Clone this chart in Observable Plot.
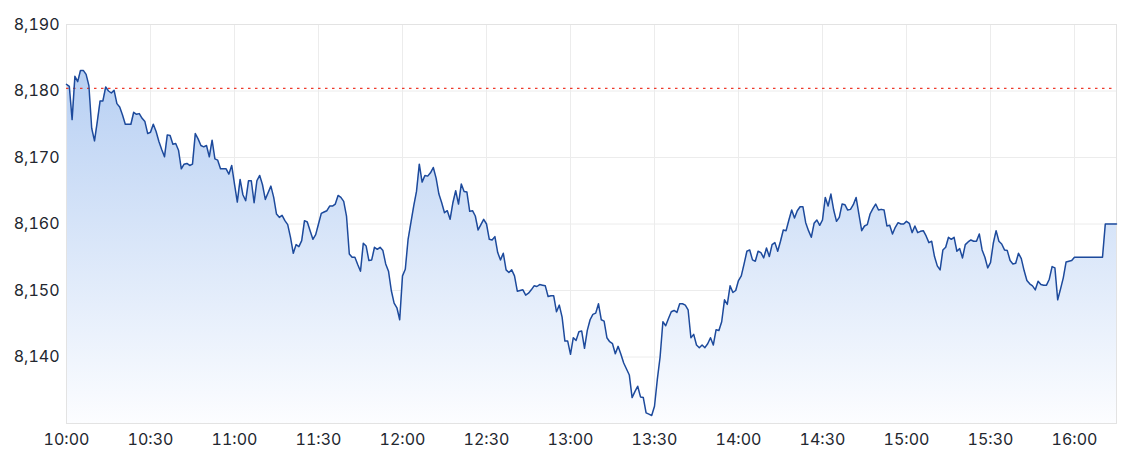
<!DOCTYPE html>
<html>
<head>
<meta charset="utf-8">
<script src="https://cdn.jsdelivr.net/npm/d3@7"></script>
<script src="https://cdn.jsdelivr.net/npm/@observablehq/plot@0.6"></script>
<style>
  html, body { margin: 0; padding: 0; background: #ffffff; }
  #chart { width: 1132px; height: 462px; }
  svg { display: block; }
</style>
</head>
<body>
<div id="chart"></div>
<script>
// Session start and per-minute prices from 10:00 (minute 0) to 16:00 (minute 360)
const sessionStart = [10, 0];
const prices = [
  8181.0, 8180.7, 8175.7, 8182.2, 8181.4, 8183.1, 8183.1, 8182.5, 8180.8, 8174.4,
  8172.5, 8175.4, 8178.5, 8178.5, 8180.6, 8180.0, 8179.7, 8180.1, 8178.1, 8177.6,
  8176.4, 8175.0, 8175.0, 8175.0, 8176.8, 8176.5, 8176.6, 8175.9, 8175.4, 8173.6,
  8173.8, 8175.0, 8173.9, 8172.4, 8171.2, 8170.1, 8173.4, 8173.3, 8172.0, 8172.1,
  8171.1, 8168.3, 8169.0, 8169.1, 8168.8, 8169.0, 8173.6, 8172.8, 8171.8, 8171.6,
  8171.8, 8170.1, 8172.6, 8169.8, 8169.6, 8168.3, 8168.3, 8168.3, 8167.5, 8168.8,
  8166.0, 8163.3, 8166.7, 8164.4, 8163.5, 8166.5, 8166.5, 8163.2, 8166.5, 8167.3,
  8165.9, 8163.7, 8164.7, 8165.7, 8164.0, 8161.5, 8161.0, 8161.3, 8160.5, 8159.9,
  8158.0, 8155.6, 8156.9, 8156.6, 8157.5, 8160.5, 8160.3, 8159.0, 8157.7, 8158.4,
  8160.0, 8161.6, 8161.8, 8162.0, 8162.7, 8162.7, 8163.0, 8164.3, 8164.0, 8163.4,
  8161.2, 8155.5, 8155.0, 8155.0, 8153.9, 8152.9, 8157.1, 8156.7, 8154.5, 8154.6,
  8156.5, 8156.2, 8156.5, 8156.0, 8154.0, 8152.9, 8150.0, 8148.1, 8147.4, 8145.6,
  8152.2, 8153.2, 8157.7, 8160.2, 8162.7, 8164.9, 8169.0, 8166.3, 8167.3, 8167.2,
  8167.7, 8168.5, 8166.9, 8164.5, 8163.2, 8161.7, 8162.0, 8160.7, 8163.2, 8165.0,
  8163.0, 8166.0, 8164.9, 8164.8, 8161.9, 8162.0, 8161.2, 8159.1, 8159.9, 8160.7,
  8160.0, 8157.7, 8157.6, 8158.1, 8155.7, 8154.6, 8155.6, 8153.1, 8152.7, 8153.1,
  8152.2, 8149.9, 8150.0, 8150.1, 8149.3, 8149.6, 8150.1, 8150.7, 8150.6, 8150.9,
  8150.8, 8150.7, 8149.1, 8149.2, 8149.2, 8146.8, 8147.8, 8146.0, 8142.4, 8142.4,
  8140.4, 8142.9, 8142.5, 8143.8, 8143.9, 8141.3, 8144.0, 8145.6, 8146.4, 8146.6,
  8148.0, 8145.6, 8145.4, 8142.9, 8142.3, 8142.0, 8140.5, 8141.6, 8140.4, 8139.1,
  8138.2, 8137.3, 8133.9, 8134.8, 8135.6, 8134.0, 8133.9, 8131.6, 8131.4, 8131.2,
  8132.6, 8136.6, 8140.0, 8145.3, 8144.7, 8145.8, 8146.8, 8147.0, 8146.7, 8148.0,
  8148.0, 8147.8, 8147.1, 8142.9, 8143.4, 8141.8, 8141.4, 8141.8, 8141.4, 8142.0,
  8142.9, 8141.8, 8144.1, 8144.0, 8145.3, 8148.6, 8147.9, 8150.7, 8149.7, 8150.0,
  8151.5, 8152.2, 8154.0, 8155.9, 8156.1, 8154.6, 8154.4, 8155.9, 8155.7, 8154.9,
  8156.4, 8155.1, 8156.9, 8157.2, 8155.9, 8157.4, 8159.1, 8159.0, 8160.6, 8162.1,
  8160.9, 8162.0, 8162.6, 8162.6, 8160.2, 8159.0, 8158.0, 8160.1, 8160.6, 8159.8,
  8160.6, 8164.0, 8162.7, 8164.5, 8162.1, 8160.4, 8161.0, 8163.0, 8162.9, 8162.1,
  8162.2, 8162.9, 8164.0, 8161.5, 8159.0, 8159.7, 8159.9, 8161.5, 8162.3, 8163.0,
  8162.1, 8162.2, 8162.1, 8159.7, 8159.8, 8158.5, 8159.5, 8160.2, 8160.0, 8160.0,
  8160.4, 8160.1, 8158.7, 8159.7, 8158.7, 8158.9, 8159.0, 8158.2, 8157.2, 8157.4,
  8155.1, 8153.7, 8153.1, 8156.1, 8156.5, 8158.0, 8157.7, 8158.0, 8155.9, 8156.3,
  8154.9, 8156.9, 8157.3, 8157.6, 8157.4, 8157.4, 8158.5, 8156.1, 8155.0, 8153.4,
  8154.2, 8157.1, 8159.0, 8157.4, 8157.0, 8156.1, 8156.0, 8154.5, 8154.0, 8154.1,
  8155.6, 8154.8, 8153.0, 8151.5, 8151.0, 8150.7, 8150.1, 8151.4, 8150.9, 8150.8,
  8150.8, 8151.7, 8153.6, 8153.4, 8148.6, 8150.2, 8151.9, 8154.3, 8154.4, 8154.5,
  8155.0
];
// Sparse trailing quotes after 16:00 (minute offsets and prices)
const tailMinutes = [370, 371, 375];
const tailPrices = [8155.0, 8160.0, 8160.0];
const previousClose = 8180.4;
const yTicks = [8140, 8150, 8160, 8170, 8180, 8190];
const yDomain = [8130, 8190];
const sessionEndMinute = 375;

const toTime = m => new Date(2024, 0, 2, sessionStart[0], sessionStart[1] + m);
const data = prices.map((v, i) => ({t: toTime(i), v}))
  .concat(tailMinutes.map((m, i) => ({t: toTime(m), v: tailPrices[i]})));

const font = "Inter, Roboto, 'Noto Sans', sans-serif";
const chart = Plot.plot({
  width: 1132,
  height: 462,
  marginLeft: 66,
  marginRight: 16,
  marginTop: 24,
  marginBottom: 39,
  style: {fontFamily: font, fontSize: "16px", color: "#23272f", background: "#ffffff"},
  x: {type: "time", domain: [toTime(0), toTime(sessionEndMinute)], label: null},
  y: {domain: yDomain, label: null},
  marks: [
    Plot.gridX({ticks: d3.timeMinute.every(30), stroke: "#ececec", strokeOpacity: 1}),
    Plot.gridY({ticks: yTicks, stroke: "#ececec", strokeOpacity: 1}),
    Plot.areaY(data, {x: "t", y1: () => yDomain[0], y2: "v", fill: "url(#areaGrad)", curve: "linear"}),
    Plot.frame({stroke: "#e3e3e3"}),
    Plot.ruleY([previousClose], {stroke: "#ef3b2c", strokeWidth: 1.2, strokeDasharray: "2.5,4.5"}),
    Plot.lineY(data, {x: "t", y: "v", stroke: "#1d4a9c", strokeWidth: 1.5, curve: "linear"}),
    Plot.axisY({ticks: yTicks, tickSize: 0, tickPadding: 7, tickFormat: d3.format(","), fontSize: 16, label: null}),
    Plot.axisX({ticks: d3.timeMinute.every(30), tickSize: 0, tickPadding: 10, tickFormat: d3.timeFormat("%H:%M"), fontSize: 16, label: null})
  ]
});

const ns = "http://www.w3.org/2000/svg";
const defs = document.createElementNS(ns, "defs");
const grad = document.createElementNS(ns, "linearGradient");
grad.setAttribute("id", "areaGrad");
grad.setAttribute("x1", "0"); grad.setAttribute("y1", "0");
grad.setAttribute("x2", "0"); grad.setAttribute("y2", "1");
[["0", "#b8d0f3"], ["1", "#fcfdff"]].forEach(([o, c]) => {
  const s = document.createElementNS(ns, "stop");
  s.setAttribute("offset", o);
  s.setAttribute("stop-color", c);
  grad.appendChild(s);
});
defs.appendChild(grad);
chart.insertBefore(defs, chart.firstChild);
document.getElementById("chart").appendChild(chart);
</script>
</body>
</html>
